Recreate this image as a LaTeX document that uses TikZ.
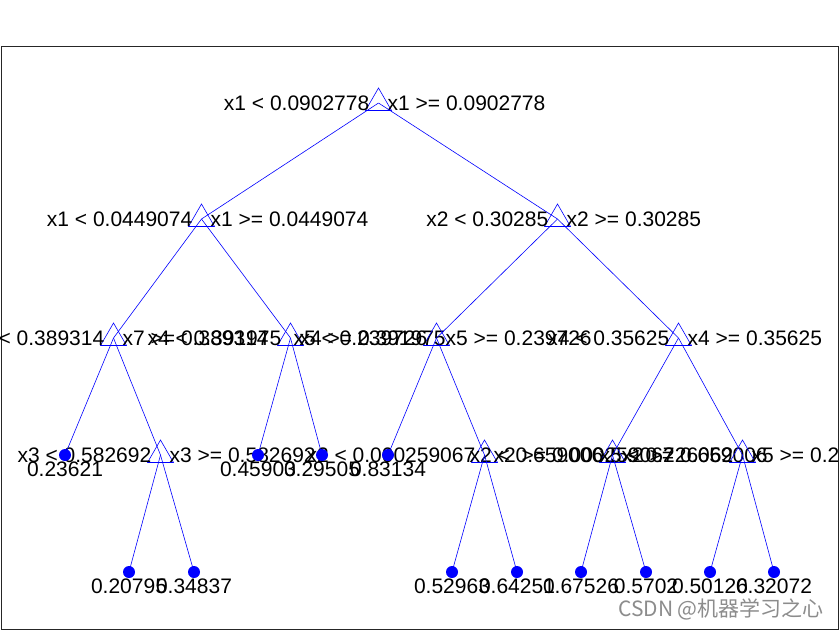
\documentclass[tikz,border=0pt]{standalone}
\usepackage{fontspec}
\setmainfont{Liberation Sans}
\newfontfamily\cjk{Noto Sans CJK SC}
\usetikzlibrary{shapes.geometric}
\tikzset{
	split/.style={draw=blue,line width=0.6pt,regular polygon,regular polygon sides=3,minimum size=30pt,inner sep=0pt,label distance=7.5pt},
	leaf/.style={circle,fill=blue,minimum size=12pt,inner sep=0pt,label distance=2pt},
	every label/.style={inner sep=0pt,font=\fontsize{21}{24}\selectfont},
	edge/.style={blue,line width=0.6pt}
}
\begin{document}
\begin{tikzpicture}[x=1pt,y=-1pt]
			\useasboundingbox (0,0) rectangle (840,630);
			\draw[black!85,line width=1pt] (1,46.5) rectangle (838.5,629);
			\node (R)[split,label=left:{x1 < 0.0902778},label=right:{x1 >= 0.0902778}] at (378.5,103) {};
			\node (A)[split,label=left:{x1 < 0.0449074},label=right:{x1 >= 0.0449074}] at (201.5,219) {};
			\node (B)[split,label=left:{x2 < 0.30285},label=right:{x2 >= 0.30285}] at (557.5,219) {};
			\node (A1)[split,label=left:{x7 < 0.389314},label=right:{x7 >= 0.389314}] at (113.5,338) {};
			\node (A2)[split,label=left:{x4 < 0.391975},label=right:{x4 >= 0.391975}] at (290.5,338) {};
			\node (B1)[split,label=left:{x5 < 0.239726},label=right:{x5 >= 0.239726}] at (436.5,338) {};
			\node (B2)[split,label=left:{x4 < 0.35625},label=right:{x4 >= 0.35625}] at (678.5,338) {};
			\node (C)[split,label=left:{x3 < 0.582692},label=right:{x3 >= 0.582692}] at (160.5,455) {};
			\node (D)[split,label=left:{x2 < 0.000259067},label=right:{x2 >= 0.000259067}] at (484.5,455) {};
			\node (E)[split,label=left:{x2 < 0.659006},label=right:{x2 >= 0.659006}] at (612.5,455) {};
			\node (F)[split,label=left:{x5 < 0.226062},label=right:{x5 >= 0.226062}] at (742.5,455) {};
			\node (L1)[leaf,label=below:{0.23621}] at (65,455) {};
			\node (L2)[leaf,label=below:{0.45903}] at (258,455) {};
			\node (L3)[leaf,label=below:{0.29505}] at (322,455) {};
			\node (L4)[leaf,label=below:{0.83134}] at (388,455) {};
			\node (C1)[leaf,label=below:{0.20795}] at (129,572) {};
			\node (C2)[leaf,label=below:{0.34837}] at (194,572) {};
			\node (D1)[leaf,label=below:{0.52963}] at (452,572) {};
			\node (D2)[leaf,label=below:{0.64251}] at (517,572) {};
			\node (E1)[leaf,label=below:{0.67526}] at (581,572) {};
			\node (E2)[leaf,label=below:{0.5702}] at (646,572) {};
			\node (F1)[leaf,label=below:{0.50126}] at (710,572) {};
			\node (F2)[leaf,label=below:{0.32072}] at (774,572) {};
			\foreach \p/\c in {R/A,R/B,A/A1,A/A2,B/B1,B/B2,A1/L1,A1/C,A2/L2,A2/L3,B1/L4,B1/D,B2/E,B2/F,C/C1,C/C2,D/D1,D/D2,E/E1,E/E2,F/F1,F/F2}
			\draw[edge] (\p.center) -- (\c.center);
			\node (wm)[text=black!45,font=\cjk\fontsize{21}{24}\selectfont] at (721,609) {CSDN @机器学习之心};
		\end{tikzpicture}
\end{document}
